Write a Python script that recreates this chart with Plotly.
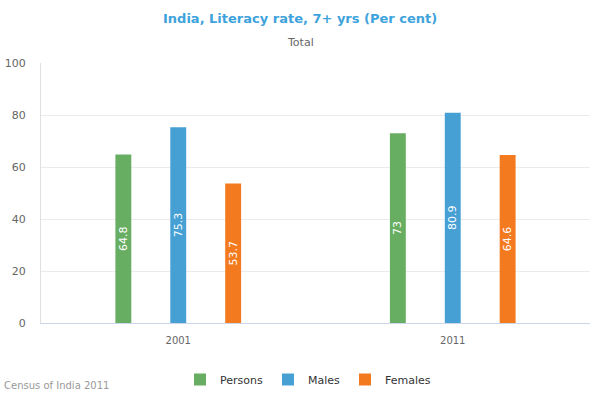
import plotly.graph_objects as go

categories = ["2001", "2011"]
series_names = ["Persons", "Males", "Females"]
persons = [64.8, 73]
males = [75.3, 80.9]
females = [53.7, 64.6]
colors = ["#68ae62", "#46a0d4", "#f47a20"]
y_ticks = [0, 20, 40, 60, 80, 100]

FONT = "DejaVu Sans"
W, H, L, R, T, B = 600, 400, 41, 10, 63, 77
pw, ph = W - L - R, H - T - B
def px(pix):
    return (pix - L) / pw
def py(pix):
    return (H - B - pix) / ph

fig = go.Figure()
for name, vals, col in zip(series_names, [persons, males, females], colors):
    fig.add_trace(go.Bar(
        x=categories, y=vals, name=name,
        marker=dict(color=col, line=dict(width=0)),
        text=[f"{v:g}" for v in vals],
        textposition="inside", insidetextanchor="middle",
        textangle=-90,
        textfont=dict(color="white", size=11, family=FONT),
        constraintext="none",
    ))

fig.update_layout(
    width=W, height=H,
    margin=dict(l=L, r=R, t=T, b=B, autoexpand=False),
    paper_bgcolor="white", plot_bgcolor="white",
    barmode="group", bargap=0.4, bargroupgap=0.71,
    font=dict(family=FONT, color="#666666", size=11),
    showlegend=True,
    legend=dict(orientation="h", x=px(308), xanchor="center", y=py(365), yanchor="top",
                font=dict(size=11, color="#333333", family=FONT),
                itemwidth=30, traceorder="normal"),
    xaxis=dict(type="category", showgrid=False, showline=True, linecolor="#ccd6eb",
               linewidth=1, ticks="", tickfont=dict(size=10, color="#666666"),
               ticklabelstandoff=8, automargin=False),
    yaxis=dict(range=[0, 100], tickvals=y_ticks, showgrid=True, gridcolor="#ebebeb",
               gridwidth=1, showline=True, linecolor="#e0e0e0", zeroline=False,
               ticks="", tickfont=dict(size=11, color="#666666"),
               ticklabelstandoff=12, automargin=False),
    annotations=[
        dict(text="<b>India, Literacy rate, 7+ yrs (Per cent)</b>", x=px(300), xref="paper",
             y=py(19), yref="paper", yanchor="middle", showarrow=False,
             font=dict(size=13, color="#3ea3dc")),
        dict(text="Total", x=px(300), xref="paper", y=py(42), yref="paper",
             yanchor="middle", showarrow=False, font=dict(size=11, color="#666666")),
        dict(text="Census of India 2011", x=px(2), xref="paper", y=py(385), yref="paper",
             yanchor="middle", xanchor="left", showarrow=False,
             font=dict(size=10, color="#999999")),
    ],
)

fig.write_html("out.html")
